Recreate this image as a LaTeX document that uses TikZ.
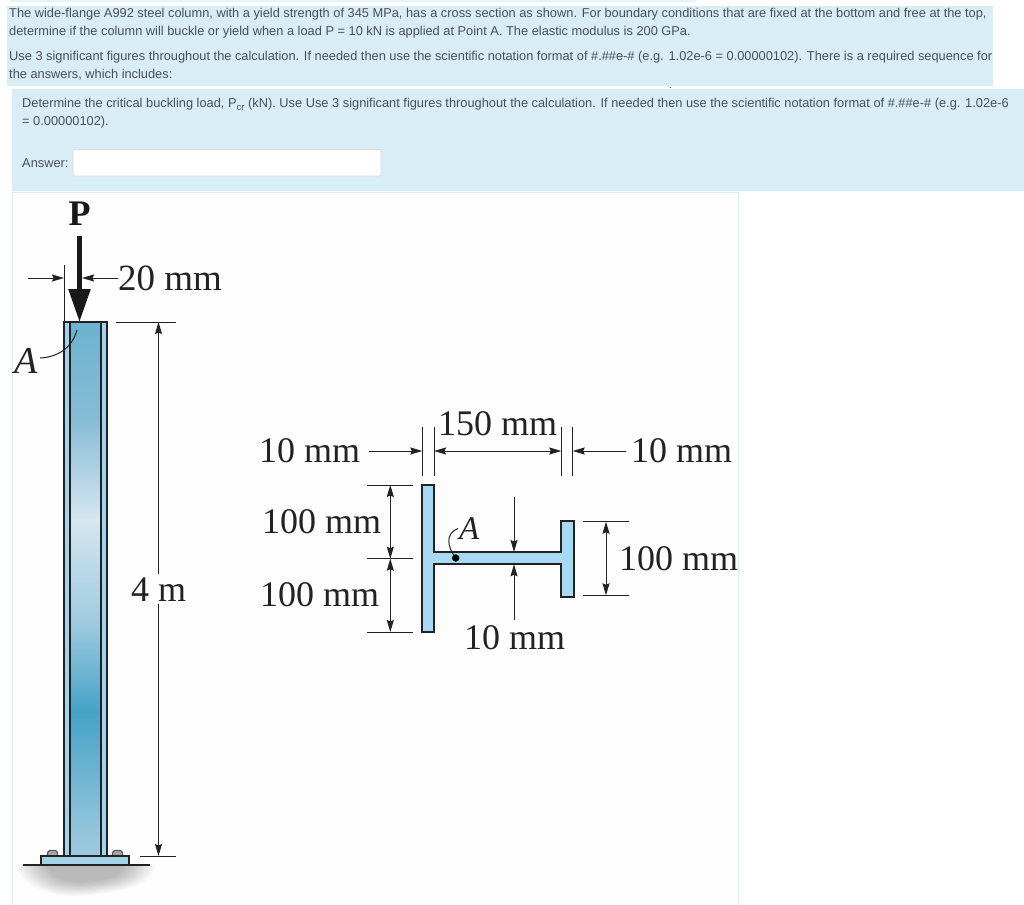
\documentclass[tikz,border=0pt]{standalone}
\usepackage{fontspec}
\setmainfont{Liberation Serif}
\newfontfamily\uifont{Liberation Sans}
\usetikzlibrary{arrows.meta,calc}
\definecolor{panelblue}{HTML}{D9EDF7}
\definecolor{uitext}{HTML}{4A4F55}
\definecolor{inkline}{HTML}{222222}
\definecolor{flangeblue}{HTML}{A9D8F2}
\definecolor{columnflange}{HTML}{A3D3EA}
\definecolor{plateblue}{HTML}{A5D2E6}
\definecolor{paperwhite}{HTML}{FDFDFD}
\definecolor{webA}{HTML}{9CC9DE}
\definecolor{webB}{HTML}{93C4DC}
\definecolor{webC}{HTML}{45A3C6}
\definecolor{webD}{HTML}{A0CBE0}
\definecolor{webE}{HTML}{D5E6F0}
\definecolor{webF}{HTML}{86BCD6}
\definecolor{webG}{HTML}{6DB2D0}
\pgfdeclareverticalshading{webshade}{100bp}{
  color(0bp)=(webA);
  color(25bp)=(webA);
  color(27.5bp)=(webB);
  color(38.5bp)=(webC);
  color(47bp)=(webD);
  color(56.5bp)=(webE);
  color(66bp)=(webF);
  color(75bp)=(webG);
  color(100bp)=(webG)}
\tikzset{
  uiline/.style={anchor=base west,inner sep=0pt,text=uitext,font=\uifont\fontsize{12.82}{15}\selectfont},
  dimtext/.style={anchor=base west,inner sep=0pt,text=inkline,font=\fontsize{36}{36}\selectfont},
  dimline/.style={draw=inkline,line width=1pt},
  dimarrow/.style={dimline,-{Stealth[length=12pt,width=7pt,inset=1.5pt]}},
  dimboth/.style={dimline,{Stealth[length=12pt,width=7pt,inset=1.5pt]}-{Stealth[length=12pt,width=7pt,inset=1.5pt]}},
  outline/.style={draw=inkline,line width=2.1pt},
  section/.style={outline,fill=flangeblue,line join=miter}
}
\begin{document}
\begin{tikzpicture}[x=1pt,y=-1pt]
\useasboundingbox (0,0) rectangle (1024,904);
\fill[white] (0,0) rectangle (1024,904);
% page panels
\fill[panelblue!70!white] (10,0) rectangle (696,2);
\fill[panelblue] (7,6) rectangle (993,86.5);
\fill[black!70] (670,86.8) rectangle (671,88);
\fill[panelblue] (12,89) rectangle (1024,191);
\filldraw[fill=paperwhite,draw=panelblue,line width=1pt] (12.5,192.5) rectangle (738,905);
\filldraw[fill=white,draw=black!15,line width=0.7pt,rounded corners=2pt] (73,149.5) rectangle (381,176) ;
% question text
\node[uiline] (t1) at (9,17.4) {The wide-flange A992 steel column, with a yield strength of 345 MPa, has a cross section as shown. For boundary conditions that are fixed at the bottom and free at the top,};
\node[uiline] (t2) at (9,36) {determine if the column will buckle or yield when a load P = 10 kN is applied at Point A. The elastic modulus is 200 GPa.};
\node[uiline] (t3) at (9,60.7) {Use 3 significant figures throughout the calculation. If needed then use the scientific notation format of \#.\#\#e-\# (e.g. 1.02e-6 = 0.00000102). There is a required sequence for};
\node[uiline] (t4) at (9,78.7) {the answers, which includes:};
\node[uiline] (t5) at (22,107.4) {Determine the critical buckling load, P\raisebox{-3.5pt}{\fontsize{9.5}{9.5}\selectfont cr} (kN). Use Use 3 significant figures throughout the calculation. If needed then use the scientific notation format of \#.\#\#e-\# (e.g. 1.02e-6};
\node[uiline] (t6) at (22,126) {= 0.00000102).};
\node[uiline] (t7) at (22,167.6) {Answer:};
% ground shadow
\begin{scope}
\clip (10,865) rectangle (170,904);
\foreach \s in {1.0,0.96,...,0.56} {
  \fill[black,opacity=0.024,shift={(85,865)},scale=\s]
    (-70,-2) .. controls (-62,26) and (-26,34) .. (6,30)
    .. controls (36,26) and (70,22) .. (70,-2) -- cycle;
}
\end{scope}
% column
\fill[columnflange] (64,322) rectangle (107,856);
\shade[shading=webshade] (70,322) rectangle (100.7,856);
\draw[outline] (64,856) -- (64,322) -- (107,322) -- (107,856);
\draw[outline] (70,322) -- (70,856);
\draw[outline] (100.7,322) -- (100.7,856);
% bolts and plate
\filldraw[draw=black!65,fill=black!35,line width=1.1pt] (47.5,856) -- (47.5,852.5) -- (49.5,850.5) -- (55.5,850.5) -- (57.5,852.5) -- (57.5,856);
\filldraw[draw=black!65,fill=black!35,line width=1.1pt] (112.5,856) -- (112.5,852.5) -- (114.5,850.5) -- (120.5,850.5) -- (122.5,852.5) -- (122.5,856);
\filldraw[outline,fill=plateblue] (40.7,856) rectangle (129.3,865);
\draw[outline] (22.5,865) -- (150,865);
% P load
\node[inner sep=0pt,anchor=base,text=black!90,font=\bfseries\fontsize{36}{36}\selectfont] (P) at (79.5,225) {P};
\coordinate (Ptail) at (79.5,236);
\coordinate (Ptip) at (79.5,322);
\draw[line width=5.4pt,black!90,-{Triangle[length=33pt,width=21pt]}] (Ptail) -- (Ptip);
% 20 mm
\node[dimtext,font=\fontsize{37}{37}\selectfont] (w20) at (118,290) {20 mm};
\coordinate (wa) at (28,278); \coordinate (wb) at (64,278);
\coordinate (wc) at (118,278); \coordinate (wd) at (82,278);
\coordinate (tk1) at (64,265); \coordinate (tk2) at (64,322);
\draw[dimline] (tk1) -- (tk2);
\draw[dimarrow] (wa) -- (wb);
\draw[dimarrow] (wc) -- (wd);
% 4 m
\coordinate (ht) at (158.5,322); \coordinate (hb) at (158.5,856);
\coordinate (hta) at (116,322); \coordinate (htb) at (176,322);
\coordinate (hba) at (140,856); \coordinate (hbb) at (176,856);
\draw[dimline] (hta) -- (htb);
\draw[dimline] (hba) -- (hbb);
\draw[dimboth] (ht) -- (hb);
\node[dimtext,fill=paperwhite,inner ysep=3pt,inner xsep=2pt] (h4) at (129,601) {4 m};
% A on column
\node[inner sep=0pt,anchor=base west,text=inkline,font=\itshape\fontsize{38}{38}\selectfont] (Acol) at (14,373) {A};
\coordinate (Atip) at (77,330);
\draw[dimline] (40,358) .. controls (58,357) and (72,348) .. (Atip);
% cross section
\draw[section] (422.3,485) rectangle (434,632);
\draw[section] (561,520.7) rectangle (573.7,596.7);
\fill[flangeblue] (433,552.6) rectangle (562,563.8);
\draw[outline] (433,552.3) -- (562,552.3);
\draw[outline] (433,564) -- (562,564);
\fill[flangeblue] (423.4,553.4) rectangle (435,562.9);
\fill[flangeblue] (560,553.4) rectangle (572.6,562.9);
% section point A
\node[circle,fill=black,inner sep=0pt,minimum size=7.5pt] (dot) at (455.7,558) {};
\node[inner sep=0pt,anchor=base west,text=inkline,font=\itshape\fontsize{33}{33}\selectfont] (Asec) at (459,539) {A};
\coordinate (Alead) at (458,528.5);
\draw[dimline] (dot) .. controls (449,548) and (444,534) .. (Alead);
% top dims
\coordinate (a1) at (422.3,427); \coordinate (a2) at (422.3,476);
\coordinate (b1) at (434,427);   \coordinate (b2) at (434,476);
\coordinate (c1) at (561.3,427); \coordinate (c2) at (561.3,476);
\coordinate (d1) at (572.7,427); \coordinate (d2) at (572.7,476);
\draw[dimline] (a1) -- (a2);
\draw[dimline] (b1) -- (b2);
\draw[dimline] (c1) -- (c2);
\draw[dimline] (d1) -- (d2);
\coordinate (ar) at (369,451); \coordinate (al) at (422.3,451);
\coordinate (bl) at (434,451); \coordinate (cl) at (561.3,451);
\coordinate (dl) at (572.7,451); \coordinate (dr) at (626,451);
\draw[dimarrow] (ar) -- (al);
\draw[dimboth] (bl) -- (cl);
\draw[dimarrow] (dr) -- (dl);
\node[dimtext] (s150) at (438,435) {150 mm};
\node[dimtext] (s10l) at (259,462) {10 mm};
\node[dimtext] (s10r) at (631,462) {10 mm};
% left dims
\coordinate (e1) at (367,485); \coordinate (e2) at (413,485);
\coordinate (f1) at (367,558.7); \coordinate (f2) at (413,558.7);
\coordinate (g1) at (367,632); \coordinate (g2) at (413,632);
\draw[dimline] (e1) -- (e2);
\draw[dimline] (f1) -- (f2);
\draw[dimline] (g1) -- (g2);
\coordinate (ev) at (390.3,485); \coordinate (fv) at (390.3,558.7); \coordinate (gv) at (390.3,632);
\draw[dimboth] (ev) -- (fv);
\draw[dimboth] (fv) -- (gv);
\node[dimtext] (s100a) at (262,533) {100 mm};
\node[dimtext] (s100b) at (260,606) {100 mm};
% right dims
\coordinate (h1) at (582.7,521.7); \coordinate (h2) at (629,521.7);
\coordinate (i1) at (582.7,595.3); \coordinate (i2) at (629,595.3);
\draw[dimline] (h1) -- (h2);
\draw[dimline] (i1) -- (i2);
\coordinate (hv) at (606,521.7); \coordinate (iv) at (606,595.3);
\draw[dimboth] (hv) -- (iv);
\node[dimtext] (s100c) at (619,570) {100 mm};
% web thickness
\coordinate (ja) at (514,496.7); \coordinate (jb) at (514,552);
\coordinate (ka) at (514,620); \coordinate (kb) at (514,564.3);
\draw[dimarrow] (ja) -- (jb);
\draw[dimarrow] (ka) -- (kb);
\node[dimtext] (s10w) at (464,649) {10 mm};
\end{tikzpicture}
\end{document}
